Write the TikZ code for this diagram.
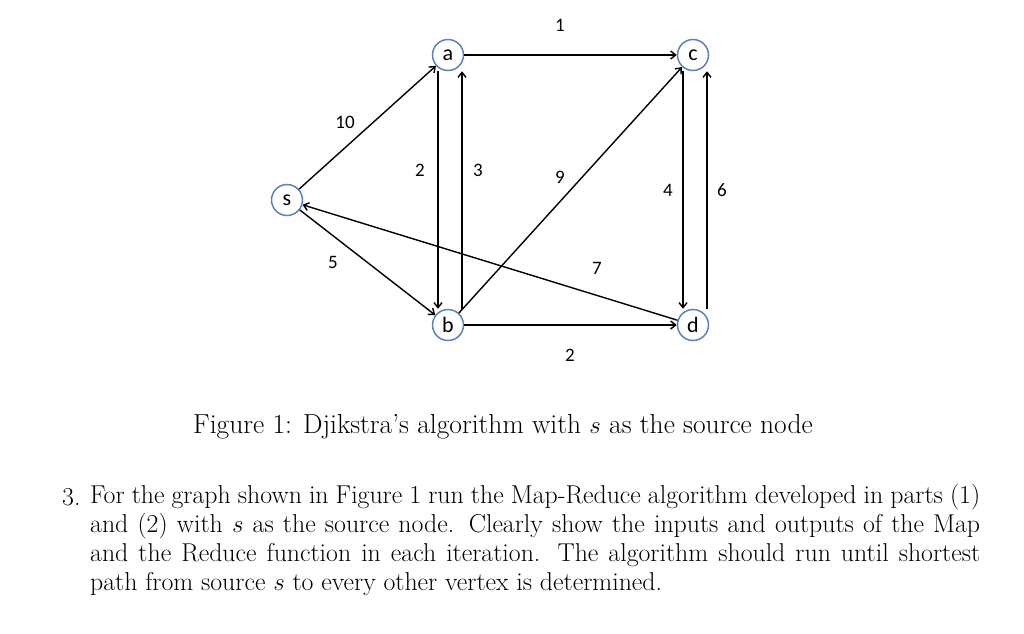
\documentclass[tikz,border=0pt]{standalone}
\usepackage{fontspec}
\usetikzlibrary{arrows.meta}
\newfontfamily\calfont{Carlito}
\definecolor{vblue}{HTML}{5B80C0}
\begin{document}
\begin{tikzpicture}[x=1pt,y=-1pt,
  vert/.style={circle,draw=vblue,line width=1.5pt,fill=white,minimum size=31pt,inner sep=0pt,font=\calfont\fontsize{22}{22}\selectfont},
  edge/.style={-{Straight Barb[length=5pt,width=8pt]},line width=1.4pt},
  lab/.style={font=\calfont\fontsize{19}{19}\selectfont},
  jline/.style={anchor=west,text width=890pt,align=justify,inner sep=0pt,font=\fontsize{25.8}{29}\selectfont,execute at begin node={\parfillskip=0pt}},
]
\useasboundingbox (0,0) rectangle (1024,633);
\node[vert] (s) at (287,200) {s};
\node[vert] (a) at (448,55) {a};
\node[vert] (c) at (693,55) {c};
\node[vert] (b) at (448,325) {b};
\node[vert] (d) at (693,325) {d};
\draw[edge] (a) -- (c);
\draw[edge] (b) -- (d);
\draw[edge] (s) -- (a);
\draw[edge] (s) -- (b);
\draw[edge] (d) -- (s);
\draw[edge] (b) -- (c);
\draw[edge] ([xshift=-10pt]a.south) -- ([xshift=-10pt]b.north);
\draw[edge] ([xshift=14pt]b.north) -- ([xshift=14pt]a.south);
\draw[edge] ([xshift=-10pt]c.south) -- ([xshift=-10pt]d.north);
\draw[edge] ([xshift=14pt]d.north) -- ([xshift=14pt]c.south);
\node[lab] (l1) at (560,25) {1};
\node[lab] (l10) at (345,122) {10};
\node[lab] (l5) at (333,262) {5};
\node[lab] (l7) at (597,268) {7};
\node[lab] (l9) at (560,177) {9};
\node[lab] (l2a) at (420,170) {2};
\node[lab] (l3) at (478,170) {3};
\node[lab] (l4) at (668,190) {4};
\node[lab] (l6) at (722,190) {6};
\node[lab] (l2b) at (570,355) {2};
\node[font=\fontsize{27.5}{30}\selectfont] (cap) at (503,427) {Figure 1: Djikstra's algorithm with $s$ as the source node};
\node[anchor=west,inner sep=0pt,font=\fontsize{25.8}{29}\selectfont] (n3) at (62,497) {3.};
\node[jline] (p1) at (90,497) {For the graph shown in Figure 1 run the Map-Reduce algorithm developed in parts (1)};
\node[jline] (p2) at (90,526) {and (2) with $s$ as the source node. Clearly show the inputs and outputs of the Map};
\node[jline] (p3) at (90,555) {and the Reduce function in each iteration. The algorithm should run until shortest};
\node[anchor=west,inner sep=0pt,font=\fontsize{25.8}{29}\selectfont] (p4) at (90,584) {path from source $s$ to every other vertex is determined.};
\end{tikzpicture}
\end{document}
